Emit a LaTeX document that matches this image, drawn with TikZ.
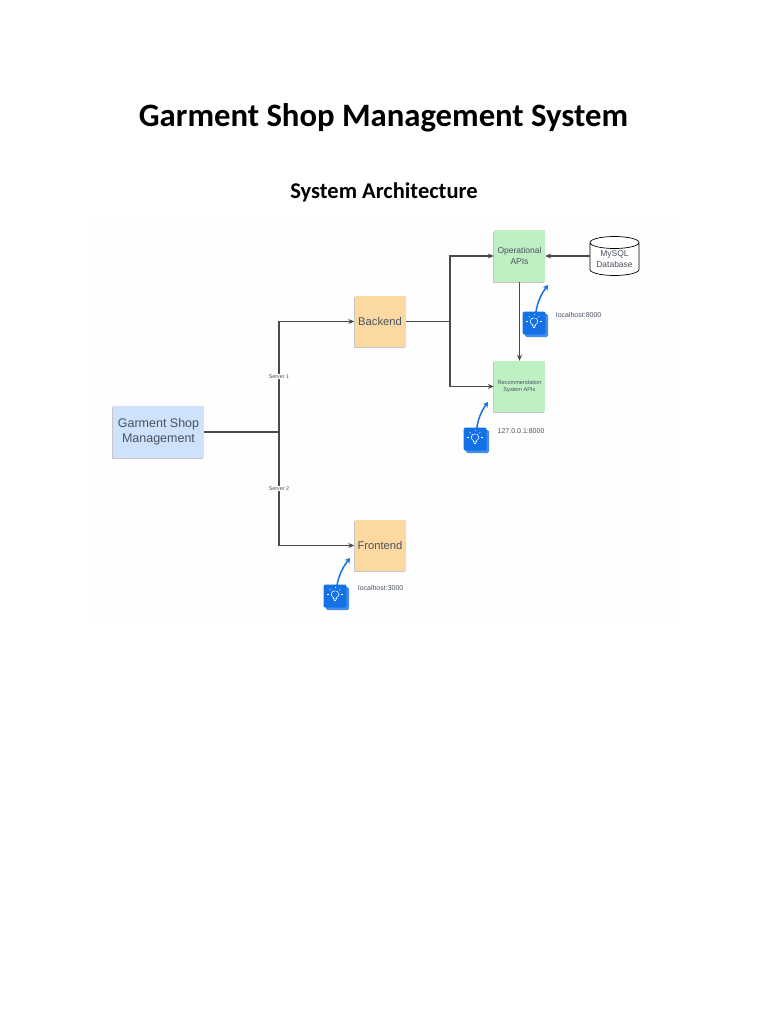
\documentclass[tikz,border=0pt]{standalone}
\usepackage{fontspec}
\setmainfont{Liberation Sans}
\newfontfamily\titlefont{Carlito}
\usepackage{tikz}
\usetikzlibrary{shapes, shapes.geometric, arrows, arrows.meta, shadows}
\definecolor{ink}{HTML}{4A5160}
\definecolor{wire}{HTML}{4A4A4A}
\definecolor{skyblue}{HTML}{CEE2FB}
\definecolor{sand}{HTML}{FBD9A0}
\definecolor{mint}{HTML}{BFF0C4}
\definecolor{iconblue}{HTML}{1471E6}
\tikzstyle{sticky} = [rectangle, inner sep=0pt, text=ink, align=center, drop shadow={shadow xshift=-0.8pt, shadow yshift=-1.4pt, opacity=0.22, fill=black}]
\tikzstyle{note} = [sticky, minimum width=51pt, minimum height=51pt]
\tikzstyle{tiny} = [text=ink, fill=black!0.5, inner sep=1pt, font=\fontsize{5.4}{6}\selectfont]
\tikzstyle{hostlabel} = [font=\fontsize{7}{8}\selectfont, text=ink, anchor=west, inner sep=0pt]
\tikzstyle{bulb} = [rectangle, rounded corners=1.5pt, fill=iconblue, minimum size=23pt, inner sep=0pt]
\tikzstyle{bulbback} = [rectangle, rounded corners=1.5pt, fill=iconblue!80, minimum size=23pt, inner sep=0pt]
\tikzstyle{arrow} = [wire, line width=1.1pt, -{Stealth[length=6pt, width=5pt]}]
\tikzstyle{wireline} = [wire, line width=1.1pt]
\tikzstyle{pointer} = [iconblue, line width=1.5pt, -{Stealth[length=5pt, width=6pt]}]
\newcommand{\lightbulb}[1]{
	\begin{scope}[shift={(#1.center)}, white, line width=0.6pt]
		\draw (-1.5,3) -- (-1.5,1.8) .. controls (-3,0.6) and (-3.8,-0.6) .. (-3.8,-1.6) .. controls (-3.8,-3.8) and (-2,-5.2) .. (0,-5.2) .. controls (2,-5.2) and (3.8,-3.8) .. (3.8,-1.6) .. controls (3.8,-0.6) and (3,0.6) .. (1.5,1.8) -- (1.5,3) -- cycle;
		\draw (-1.1,4.6) -- (1.1,4.6);
		\foreach \ang in {180,225,270,315,360} {
			\draw [line width=0.45pt] ([shift={(0,-1.6)}]\ang:6) -- ([shift={(0,-1.6)}]\ang:7.6);
		}
	\end{scope}
}

\begin{document}
\begin{tikzpicture}[x=1pt, y=-1pt]
	\useasboundingbox [fill=white] (0,0) rectangle (768,1024);
	\fill [black!0.5] (90,220) rectangle (678,622);

	% headings
	\node [font=\titlefont\bfseries\fontsize{32.7}{36}\selectfont, text=black] (title) at (383.5,117.5) {Garment Shop Management System};
	\node [font=\titlefont\bfseries\fontsize{22.5}{26}\selectfont, text=black] (subtitle) at (384,192.5) {System Architecture};

	% blocks
	\node [sticky, fill=skyblue, minimum width=91pt, minimum height=52pt, font=\fontsize{12.5}{15.5}\selectfont] (garment) at (158.5,432) {Garment Shop\\Management};
	\node [note, fill=sand, font=\fontsize{11.2}{12}\selectfont] (backend) at (380,321.5) {Backend};
	\node [note, fill=sand, font=\fontsize{11.2}{12}\selectfont] (frontend) at (380,545.5) {Frontend};
	\node [note, fill=mint, font=\fontsize{8.5}{11}\selectfont] (operational) at (519.5,256) {Operational\\APIs};
	\node [note, fill=mint, font=\fontsize{5.6}{7}\selectfont] (recommend) at (519.5,386.5) {Recommendation\\System APIs};
	\node [cylinder, shape border rotate=90, aspect=0.33, draw=black, fill=white, line width=0.7pt, minimum width=49pt, minimum height=39pt, inner sep=0pt, align=center, text=ink, font=\fontsize{8.5}{10.5}\selectfont, anchor=shape center] (mysql) at (614.5,256) {MySQL\\Database};

	% junctions
	\coordinate (split) at (279,432);
	\coordinate (fork) at (450,321.5);

	% arrows
	\draw [wireline] (garment) -- (split);
	\draw [arrow] (split) |- (backend);
	\draw [arrow] (split) |- (frontend);
	\draw [wireline] (backend) -- (fork);
	\draw [arrow] (fork) |- (operational);
	\draw [arrow] (fork) |- (recommend);
	\draw [arrow] (mysql.west |- operational) -- (operational);
	\draw [arrow] (operational) -- (recommend);

	% server labels
	\node [tiny] (server1) at (279,376.5) {Server 1};
	\node [tiny] (server2) at (279,488.5) {Server 2};

	% icons
	\node [bulbback] (backfront) at (337.5,598.5) {};
	\node [bulb] (bulbfront) at (335,596) {};
	\lightbulb{bulbfront}
	\node [bulbback] (backop) at (536.5,325.5) {};
	\node [bulb] (bulbop) at (534,323) {};
	\lightbulb{bulbop}
	\node [bulbback] (backrec) at (477.5,441.5) {};
	\node [bulb] (bulbrec) at (475,439) {};
	\lightbulb{bulbrec}

	% pointers
	\coordinate (tipfront) at (350,558);
	\coordinate (tipop) at (548,285);
	\coordinate (tiprec) at (488,402);
	\draw [pointer] ([xshift=1pt, yshift=-7pt]bulbfront.north) to [bend left=15] (tipfront);
	\draw [pointer] ([xshift=1pt, yshift=-7pt]bulbop.north) to [bend left=15] (tipop);
	\draw [pointer] ([xshift=1pt, yshift=-7pt]bulbrec.north) to [bend left=15] (tiprec);

	% host labels
	\node [hostlabel] (hostfront) at (358,588) {localhost:3000};
	\node [hostlabel] (hostop) at (556,315) {localhost:8000};
	\node [hostlabel] (hostrec) at (497.5,431) {127.0.0.1:8000};
\end{tikzpicture}
\end{document}
